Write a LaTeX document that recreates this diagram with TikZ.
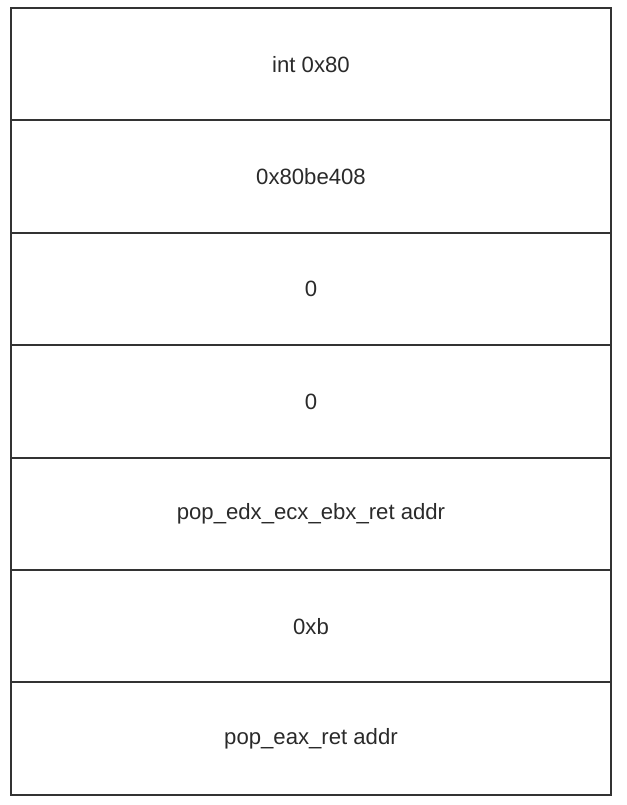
\documentclass[tikz,border=0pt]{standalone}
\usepackage{fontspec}
\setmainfont{Liberation Sans}
\usetikzlibrary{positioning}
\definecolor{edgegray}{HTML}{333333}
\definecolor{textgray}{HTML}{2A2A2A}

\tikzset{
    slot/.style={draw=edgegray, line width=1.1pt, outer sep=0pt,
        minimum width=12cm, minimum height=2.248cm,
        text=textgray, font=\fontsize{12.6}{15}\selectfont},
}

\begin{document}
\begin{tikzpicture}
            \useasboundingbox (0,0) rectangle (12.52,-16.1);
            \node [slot, anchor=north west] (int) at (0.22,-0.16) {int 0x80};
            \node [slot, below=0pt of int] (binsh) {0x80be408};
            \node [slot, below=0pt of binsh] (zeroa) {0};
            \node [slot, below=0pt of zeroa] (zerob) {0};
            \node [slot, below=0pt of zerob] (popedx) {pop\_edx\_ecx\_ebx\_ret addr};
            \node [slot, below=0pt of popedx] (sysno) {0xb};
            \node [slot, below=0pt of sysno] (popeax) {pop\_eax\_ret addr};
        \end{tikzpicture}
\end{document}
